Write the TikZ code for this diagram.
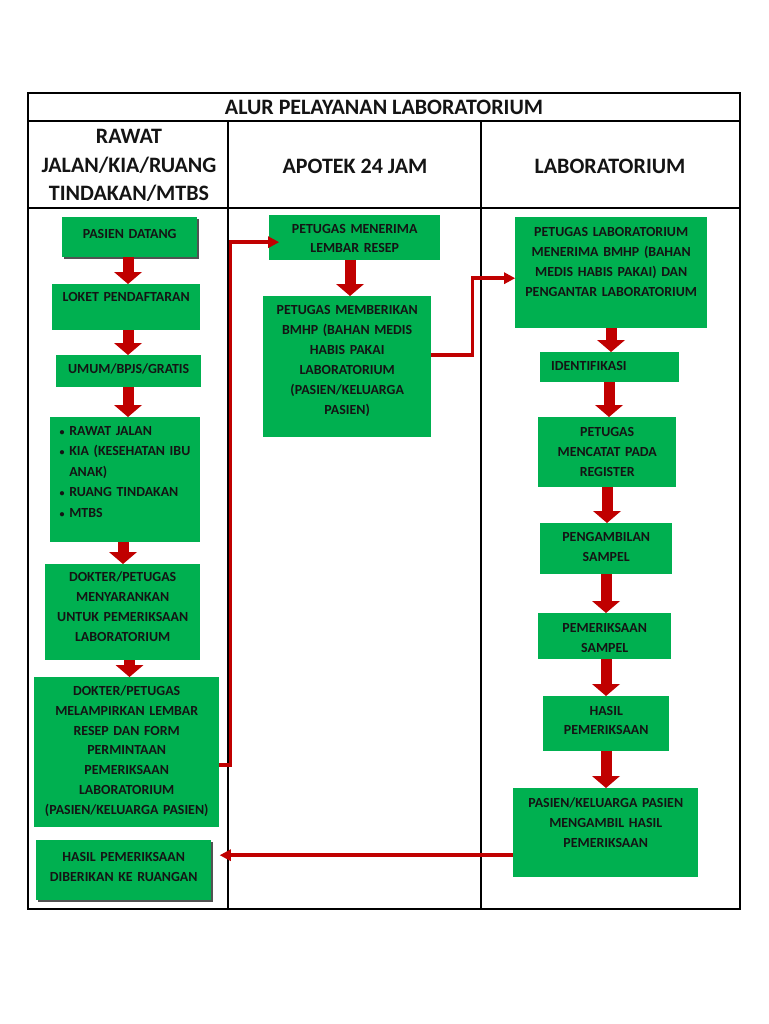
\documentclass[tikz,border=0pt]{standalone}
\usepackage{fontspec}
\setmainfont{Carlito}
\usetikzlibrary{arrows.meta,shadows}
\definecolor{boxgreen}{RGB}{0,176,80}
\definecolor{arrred}{RGB}{192,0,0}
\definecolor{txtdark}{RGB}{20,20,20}
\newcommand{\smbul}{{\fontsize{10}{10}\selectfont\textbullet}\ }
\begin{document}
\begin{tikzpicture}[x=1pt,y=-1pt,
  gbox/.style n args={4}{draw=none, fill=boxgreen, inner sep=0pt, text width=#1,
     text height=#2, text depth=#3, align=center, text=txtdark,
     font=\fontsize{13.9}{#4}\selectfont\bfseries, anchor=north west},
  gshadow/.style={drop shadow={shadow xshift=1.5pt,shadow yshift=-1.5pt,fill=black!75,opacity=0.9}},
  fat/.style={draw=arrred, line width=11pt, -{Triangle[width=28pt,length=12pt,line width=0pt]}},
  conn/.style={draw=arrred, line width=3.5pt, -{Triangle[width=12pt,length=11pt,line width=0pt]}},
  tab/.style={draw=black, line width=1.1pt},
  hdr/.style={font=\fontsize{22}{28.5}\selectfont\bfseries, align=center, anchor=base, inner sep=0pt, text=txtdark}
]
\fill[white] (0,0) rectangle (768,1024);
\useasboundingbox (0,0) rectangle (768,1024);

% table
\draw[tab] (28,93) rectangle (740,909);
\draw[tab] (28,121) -- (740,121);
\draw[tab] (28,208) -- (740,208);
\draw[tab] (228,121) -- (228,909);
\draw[tab] (481,121) -- (481,909);

\node[hdr] (title) at (384,115) {ALUR PELAYANAN LABORATORIUM};
\node[hdr, text width=196pt] (hA) at (129,144) {RAWAT\\JALAN/KIA/RUANG\\TINDAKAN/MTBS};
\node[hdr] (hB) at (355,174) {APOTEK 24 JAM};
\node[hdr] (hC) at (610,174) {LABORATORIUM};

% left column
\node[gbox={135pt}{21pt}{19pt}{20pt}, gshadow] (A) at (62,217) {PASIEN DATANG};
\node[gbox={148pt}{17pt}{29pt}{20pt}] (B) at (52,284) {LOKET PENDAFTARAN};
\node[gbox={145pt}{18pt}{14pt}{20pt}] (C) at (56,355) {UMUM/BPJS/GRATIS};
\node[gbox={131pt}{18pt}{107pt}{20.5pt}, align=left, inner xsep=9.5pt] (D) at (50,417)
  {\smbul RAWAT JALAN\\ \smbul KIA (KESEHATAN IBU\\ \hphantom{\smbul}ANAK)\\ \smbul RUANG TINDAKAN\\ \smbul MTBS};
\node[gbox={155pt}{17.5pt}{78.5pt}{20pt}] (E) at (45,564) {DOKTER/PETUGAS\\MENYARANKAN\\UNTUK PEMERIKSAAN\\LABORATORIUM};
\node[gbox={185pt}{18pt}{132pt}{19.9pt}] (F) at (34,677) {DOKTER/PETUGAS\\MELAMPIRKAN LEMBAR\\RESEP DAN FORM\\PERMINTAAN\\PEMERIKSAAN\\LABORATORIUM\\(PASIEN/KELUARGA PASIEN)};
\node[gbox={175pt}{21pt}{39pt}{20pt}, gshadow] (G) at (36,840) {HASIL PEMERIKSAAN\\DIBERIKAN KE RUANGAN};

% middle column
\node[gbox={171pt}{18.5pt}{26.5pt}{19pt}] (H) at (269,215) {PETUGAS MENERIMA\\LEMBAR RESEP};
\node[gbox={168pt}{18pt}{123pt}{20pt}] (I) at (263,296) {PETUGAS MEMBERIKAN\\BMHP (BAHAN MEDIS\\HABIS PAKAI\\LABORATORIUM\\(PASIEN/KELUARGA\\PASIEN)};

% right column
\node[gbox={192pt}{19pt}{92pt}{20pt}] (J) at (515,217) {PETUGAS LABORATORIUM\\MENERIMA BMHP (BAHAN\\MEDIS HABIS PAKAI) DAN\\PENGANTAR LABORATORIUM};
\node[gbox={117pt}{18pt}{12pt}{20pt}, align=left, inner xsep=11pt] (K) at (540,352) {IDENTIFIKASI};
\node[gbox={138pt}{19pt}{51pt}{20pt}] (L) at (538,417) {PETUGAS\\MENCATAT PADA\\REGISTER};
\node[gbox={132pt}{18.5pt}{32.5pt}{20pt}] (M) at (540,523) {PENGAMBILAN\\SAMPEL};
\node[gbox={133pt}{19.5pt}{26.5pt}{20pt}] (N) at (538,613) {PEMERIKSAAN\\SAMPEL};
\node[gbox={126pt}{19pt}{36pt}{19.5pt}] (O) at (543,696) {HASIL\\PEMERIKSAAN};
\node[gbox={185pt}{19pt}{70pt}{20pt}] (P) at (513,788) {PASIEN/KELUARGA PASIEN\\MENGAMBIL HASIL\\PEMERIKSAAN};

% fat arrows
\draw[fat] (A.south -| 128,0) -- (B.north -| 128,0);
\draw[fat] (B.south -| 128,0) -- (C.north -| 128,0);
\draw[fat] (C.south -| 128,0) -- (D.north -| 128,0);
\draw[fat] (D.south -| 123,0) -- (E.north -| 123,0);
\draw[fat] (E.south -| 129.5,0) -- (F.north -| 129.5,0);
\draw[fat] (H.south -| 350,0) -- (I.north -| 350,0);
\draw[fat] (J.south -| 611,0) -- (K.north -| 611,0);
\draw[fat] (K.south -| 609,0) -- (L.north -| 609,0);
\draw[fat] (L.south -| 607,0) -- (M.north -| 607,0);
\draw[fat] (M.south -| 606,0) -- (N.north -| 606,0);
\draw[fat] (N.south -| 606,0) -- (O.north -| 606,0);
\draw[fat] (O.south -| 606,0) -- (P.north -| 606,0);

% connectors
\draw[conn] ([yshift=-13pt]F.east) -- ++(11,0) |- ([xshift=10pt,yshift=-4.5pt]H.west);
\draw[conn] ([yshift=11.5pt]I.east) -- ++(41,0) |- ([yshift=-5.5pt]J.west);
\coordinate (gtip) at ([xshift=8.5pt]G.east);
\coordinate (pl) at ([yshift=-22.5pt]P.west);
\draw[conn] (pl) -- (pl -| gtip);
\end{tikzpicture}
\end{document}
